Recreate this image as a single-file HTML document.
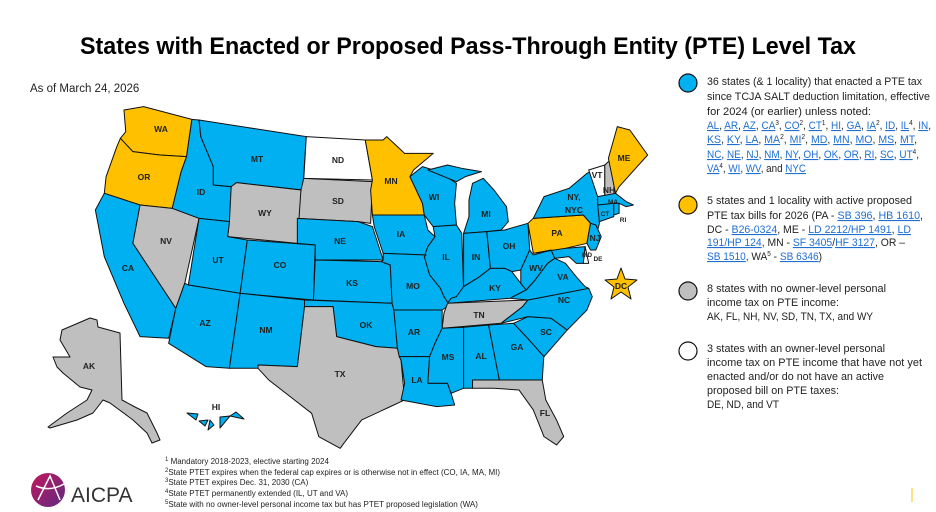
<!DOCTYPE html>
<html><head><meta charset="utf-8"><style>
html,body{margin:0;padding:0;background:#fff;}
svg{display:block;font-family:"Liberation Sans",sans-serif;}
.l{font-size:8.5px;font-weight:bold;fill:#222;text-anchor:middle;}
.lg{font-size:11px;fill:#222;}
.u{fill:#1f6fd1;text-decoration:underline;}
.fn{font-size:8px;fill:#222;}
</style></head><body>
<svg width="936" height="512" viewBox="0 0 936 512">
<text x="468" y="54" text-anchor="middle" font-size="24" font-weight="bold" fill="#000" textLength="776" lengthAdjust="spacingAndGlyphs">States with Enacted or Proposed Pass-Through Entity (PTE) Level Tax</text>
<text x="30" y="92" font-size="11.5" fill="#222">As of March 24, 2026</text>

<g transform="translate(90,90) scale(0.3575,0.3333)" stroke="#111" stroke-width="1" stroke-linejoin="round">
<g>
<polygon fill="#ffc000" vector-effect="non-scaling-stroke" points="95,60 150,50 285,88 270,200 195,195 120,185 85,145 100,125"/>
<polygon fill="#ffc000" vector-effect="non-scaling-stroke" points="85,145 120,185 195,195 270,200 255,245 230,355 140,345 40,310 45,260 75,170"/>
<polygon fill="#00b0f0" vector-effect="non-scaling-stroke" points="40,310 140,345 120,460 240,655 220,745 140,740 95,640 40,500 15,360"/>
<polygon fill="#bfbfbf" vector-effect="non-scaling-stroke" points="140,345 230,355 305,385 265,580 240,655 120,460"/>
<polygon fill="#00b0f0" vector-effect="non-scaling-stroke" points="285,88 305,90 310,140 345,230 345,285 395,290 390,395 305,385 230,355 255,245 270,200"/>
<polygon fill="#00b0f0" vector-effect="non-scaling-stroke" points="305,90 605,140 595,300 410,278 395,290 345,285 345,230 310,140"/>
<polygon fill="#ffffff" vector-effect="non-scaling-stroke" points="605,140 770,150 790,270 598,265"/>
<polygon fill="#bfbfbf" vector-effect="non-scaling-stroke" points="598,265 790,275 785,400 750,395 580,385 590,300"/>
<polygon fill="#bfbfbf" vector-effect="non-scaling-stroke" points="410,278 590,300 580,460 385,440 390,395 395,290"/>
<polygon fill="#00b0f0" vector-effect="non-scaling-stroke" points="580,385 750,395 790,410 820,510 630,510 630,465 580,460"/>
<polygon fill="#00b0f0" vector-effect="non-scaling-stroke" points="305,385 390,395 385,440 440,450 420,610 275,585"/>
<polygon fill="#00b0f0" vector-effect="non-scaling-stroke" points="440,450 630,465 625,630 420,610"/>
<polygon fill="#00b0f0" vector-effect="non-scaling-stroke" points="630,510 815,515 840,525 845,640 625,630"/>
<polygon fill="#00b0f0" vector-effect="non-scaling-stroke" points="275,585 420,610 390,835 325,830 220,760 240,655 265,580"/>
<polygon fill="#00b0f0" vector-effect="non-scaling-stroke" points="420,610 600,630 600,650 580,830 470,825 470,835 390,835"/>
<polygon fill="#00b0f0" vector-effect="non-scaling-stroke" points="600,630 845,640 850,660 860,775 800,770 745,755 690,740 680,650 600,650"/>
<polygon fill="#bfbfbf" vector-effect="non-scaling-stroke" points="600,650 680,650 690,740 745,755 800,770 860,775 870,810 880,930 840,950 760,990 710,1060 700,1075 640,1040 620,970 560,920 500,870 470,835 470,825 580,830"/>
<polygon fill="#ffc000" vector-effect="non-scaling-stroke" points="770,150 820,150 830,140 880,190 960,190 905,240 895,260 930,340 935,375 790,375 785,300 790,270"/>
<polygon fill="#00b0f0" vector-effect="non-scaling-stroke" points="790,375 935,375 945,420 965,440 945,470 940,495 820,490 795,410"/>
<polygon fill="#00b0f0" vector-effect="non-scaling-stroke" points="895,260 930,230 975,245 1025,280 1020,340 1025,405 960,410 935,375 930,340"/>
<polygon fill="#00b0f0" vector-effect="non-scaling-stroke" points="945,240 1000,225 1040,235 1095,245 1050,260 1025,275"/>
<polygon fill="#00b0f0" vector-effect="non-scaling-stroke" points="1070,280 1100,265 1130,300 1165,350 1170,395 1150,420 1110,425 1045,430 1060,380 1060,330"/>
<polygon fill="#00b0f0" vector-effect="non-scaling-stroke" points="960,410 1025,405 1040,430 1045,600 1025,620 1005,645 990,620 980,595 950,555 935,500 945,470 965,440"/>
<polygon fill="#00b0f0" vector-effect="non-scaling-stroke" points="1045,430 1110,425 1120,535 1090,560 1045,590"/>
<polygon fill="#00b0f0" vector-effect="non-scaling-stroke" points="1110,425 1160,420 1225,400 1230,480 1205,540 1180,545 1160,535 1120,535"/>
<polygon fill="#00b0f0" vector-effect="non-scaling-stroke" points="820,490 940,495 935,500 950,555 980,595 990,620 1005,645 985,660 850,660 845,640 840,525 815,515 820,510"/>
<polygon fill="#00b0f0" vector-effect="non-scaling-stroke" points="1045,590 1090,560 1120,535 1160,535 1180,545 1205,580 1220,600 1175,625 1000,640 1010,625 1025,620"/>
<polygon fill="#bfbfbf" vector-effect="non-scaling-stroke" points="1000,640 1225,630 1210,650 1150,700 985,715 990,670"/>
<polygon fill="#00b0f0" vector-effect="non-scaling-stroke" points="850,660 985,660 985,715 965,760 950,800 865,800 860,775"/>
<polygon fill="#00b0f0" vector-effect="non-scaling-stroke" points="865,800 950,800 945,880 1000,880 1010,910 1020,945 970,950 870,930 880,880 870,810"/>
<polygon fill="#00b0f0" vector-effect="non-scaling-stroke" points="985,715 1045,712 1045,895 1010,910 1000,880 945,880 950,800 965,760"/>
<polygon fill="#00b0f0" vector-effect="non-scaling-stroke" points="1045,712 1115,705 1145,870 1070,870 1070,895 1045,895"/>
<polygon fill="#00b0f0" vector-effect="non-scaling-stroke" points="1115,705 1185,700 1220,740 1270,790 1265,870 1145,870"/>
<polygon fill="#00b0f0" vector-effect="non-scaling-stroke" points="1185,700 1225,680 1290,685 1335,720 1270,800 1220,740"/>
<polygon fill="#bfbfbf" vector-effect="non-scaling-stroke" points="1070,870 1265,870 1275,930 1305,990 1325,1040 1305,1065 1270,1040 1240,960 1200,900 1130,895 1070,895"/>
<polygon fill="#00b0f0" vector-effect="non-scaling-stroke" points="1225,630 1395,595 1405,620 1390,660 1335,720 1290,685 1225,680 1150,700 1210,650"/>
<polygon fill="#00b0f0" vector-effect="non-scaling-stroke" points="1175,625 1220,600 1245,570 1280,520 1300,505 1330,520 1360,560 1385,590 1395,595 1225,630"/>
<polygon fill="#00b0f0" vector-effect="non-scaling-stroke" points="1205,540 1230,480 1240,495 1290,480 1300,505 1280,520 1245,570 1220,600 1205,580"/>
<polygon fill="#ffc000" vector-effect="non-scaling-stroke" points="1225,400 1240,385 1380,375 1400,400 1390,460 1330,475 1240,490"/>
<polygon fill="#00b0f0" vector-effect="non-scaling-stroke" points="1240,385 1270,320 1340,295 1390,250 1410,240 1420,310 1425,400 1415,440 1400,400 1380,375"/>
<polygon fill="#00b0f0" vector-effect="non-scaling-stroke" points="1390,460 1400,400 1415,405 1430,440 1415,480 1400,480"/>
<polygon fill="#00b0f0" vector-effect="non-scaling-stroke" points="1240,490 1330,475 1385,470 1380,520 1360,520 1340,500 1300,505 1290,480"/>
<polygon fill="#ffffff" vector-effect="non-scaling-stroke" points="1385,470 1395,520 1380,520"/>
<polygon fill="#ffffff" vector-effect="non-scaling-stroke" points="1395,240 1440,225 1440,320 1420,320"/>
<polygon fill="#bfbfbf" vector-effect="non-scaling-stroke" points="1440,225 1455,210 1470,310 1440,320"/>
<polygon fill="#ffc000" vector-effect="non-scaling-stroke" points="1450,205 1475,110 1510,120 1560,195 1480,290 1470,310"/>
<polygon fill="#00b0f0" vector-effect="non-scaling-stroke" points="1420,320 1470,310 1500,335 1520,345 1500,350 1480,340 1420,345"/>
<polygon fill="#00b0f0" vector-effect="non-scaling-stroke" points="1420,345 1465,340 1465,380 1425,395"/>
<polygon fill="#00b0f0" vector-effect="non-scaling-stroke" points="1465,340 1480,340 1480,370 1465,375"/>
</g></g>

<g stroke="#111" stroke-width="1" stroke-linejoin="round">
<polygon fill="#bfbfbf" points="62,330 90,318 97,320 98,327 120,333 122,400 135,407 147,413 157,433 160,440 152,443 147,433 133,420 110,403 103,400 93,413 77,420 50,428 48,427 67,413 87,400 92,390 80,387 63,373 57,367 53,357 70,357 60,340"/>
<polygon fill="#00b0f0" points="187,413 198,414 196,420"/>
<polygon fill="#00b0f0" points="199,421 208,420 205,426"/>
<polygon fill="#00b0f0" points="210,420 214,425 208,430"/>
<polygon fill="#00b0f0" points="220,417 230,416 220,428"/>
<polygon fill="#00b0f0" points="230,416 236,412 244,419"/>
<polygon fill="#ffc000" points="621,268 625,279 637,280 628,287 631,299 621,292 611,299 614,287 605,280 617,279"/>
</g>

<g class="l">
<text x="161" y="132">WA</text><text x="144" y="180">OR</text><text x="128" y="271">CA</text>
<text x="166" y="244">NV</text><text x="201" y="195">ID</text><text x="257" y="162">MT</text>
<text x="338" y="163">ND</text><text x="338" y="204">SD</text><text x="265" y="216">WY</text>
<text x="340" y="244">NE</text><text x="218" y="263">UT</text><text x="280" y="268">CO</text>
<text x="352" y="286">KS</text><text x="205" y="326">AZ</text><text x="266" y="333">NM</text>
<text x="366" y="328">OK</text><text x="340" y="377">TX</text><text x="391" y="184">MN</text>
<text x="401" y="237">IA</text><text x="413" y="289">MO</text><text x="414" y="335">AR</text>
<text x="417" y="383">LA</text><text x="434" y="200">WI</text><text x="446" y="260">IL</text>
<text x="486" y="217">MI</text><text x="476" y="260">IN</text><text x="509" y="249">OH</text>
<text x="495" y="291">KY</text><text x="479" y="318">TN</text><text x="448" y="360">MS</text>
<text x="481" y="359">AL</text><text x="517" y="350">GA</text><text x="546" y="335">SC</text>
<text x="545" y="416">FL</text><text x="564" y="303">NC</text><text x="563" y="280">VA</text>
<text x="536" y="271">WV</text><text x="557" y="236">PA</text><text x="574" y="200">NY,</text>
<text x="574" y="213">NYC</text><text x="597" y="178">VT</text><text x="609" y="193">NH</text>
<text x="624" y="161">ME</text><text x="613" y="204" font-size="6.5">MA</text>
<text x="605" y="216" font-size="6.5">CT</text><text x="623" y="222" font-size="6.5">RI</text>
<text x="595" y="241">NJ</text><text x="587" y="257" font-size="6.5">MD</text><text x="598" y="261" font-size="6.5">DE</text>
<text x="621" y="289">DC</text><text x="89" y="369">AK</text><text x="216" y="410">HI</text>
</g>

<g stroke="#111" stroke-width="1.2">
<circle cx="688" cy="83" r="9" fill="#00b0f0"/>
<circle cx="688" cy="205" r="9" fill="#ffc000"/>
<circle cx="688" cy="291" r="9" fill="#bfbfbf"/>
<circle cx="688" cy="351" r="9" fill="#fff"/>
</g>
<g class="lg">
<text x="707" y="85" textLength="215" lengthAdjust="spacingAndGlyphs">36 states (&amp; 1 locality) that enacted a PTE tax</text>
<text x="707" y="100" textLength="223" lengthAdjust="spacingAndGlyphs">since TCJA SALT deduction limitation, effective</text>
<text x="707" y="115" textLength="164" lengthAdjust="spacingAndGlyphs">for 2024 (or earlier) unless noted:</text>
<text x="707" y="129" textLength="224" lengthAdjust="spacingAndGlyphs"><tspan class="u">AL</tspan>, <tspan class="u">AR</tspan>, <tspan class="u">AZ</tspan>, <tspan class="u">CA</tspan><tspan font-size="7" dy="-4">3</tspan><tspan dy="4">, </tspan><tspan class="u">CO</tspan><tspan font-size="7" dy="-4">2</tspan><tspan dy="4">, </tspan><tspan class="u">CT</tspan><tspan font-size="7" dy="-4">1</tspan><tspan dy="4">, </tspan><tspan class="u">HI</tspan>, <tspan class="u">GA</tspan>, <tspan class="u">IA</tspan><tspan font-size="7" dy="-4">2</tspan><tspan dy="4">, </tspan><tspan class="u">ID</tspan>, <tspan class="u">IL</tspan><tspan font-size="7" dy="-4">4</tspan><tspan dy="4">, </tspan><tspan class="u">IN</tspan>,</text>
<text x="707" y="143" textLength="210" lengthAdjust="spacingAndGlyphs"><tspan class="u">KS</tspan>, <tspan class="u">KY</tspan>, <tspan class="u">LA</tspan>, <tspan class="u">MA</tspan><tspan font-size="7" dy="-4">2</tspan><tspan dy="4">, </tspan><tspan class="u">MI</tspan><tspan font-size="7" dy="-4">2</tspan><tspan dy="4">, </tspan><tspan class="u">MD</tspan>, <tspan class="u">MN</tspan>, <tspan class="u">MO</tspan>, <tspan class="u">MS</tspan>, <tspan class="u">MT</tspan>,</text>
<text x="707" y="158" textLength="212" lengthAdjust="spacingAndGlyphs"><tspan class="u">NC</tspan>, <tspan class="u">NE</tspan>, <tspan class="u">NJ</tspan>, <tspan class="u">NM</tspan>, <tspan class="u">NY</tspan>, <tspan class="u">OH</tspan>, <tspan class="u">OK</tspan>, <tspan class="u">OR</tspan>, <tspan class="u">RI</tspan>, <tspan class="u">SC</tspan>, <tspan class="u">UT</tspan><tspan font-size="7" dy="-4">4</tspan><tspan dy="4">,</tspan></text>
<text x="707" y="172" textLength="99" lengthAdjust="spacingAndGlyphs"><tspan class="u">VA</tspan><tspan font-size="7" dy="-4">4</tspan><tspan dy="4">, </tspan><tspan class="u">WI</tspan>, <tspan class="u">WV</tspan>, and <tspan class="u">NYC</tspan></text>

<text x="707" y="204" textLength="205" lengthAdjust="spacingAndGlyphs">5 states and 1 locality with active proposed</text>
<text x="707" y="219" textLength="216" lengthAdjust="spacingAndGlyphs">PTE tax bills for 2026 (PA - <tspan class="u">SB 396</tspan>, <tspan class="u">HB 1610</tspan>,</text>
<text x="707" y="233" textLength="204" lengthAdjust="spacingAndGlyphs">DC - <tspan class="u">B26-0324</tspan>, ME - <tspan class="u">LD 2212/HP 1491</tspan>, <tspan class="u">LD</tspan></text>
<text x="707" y="246" textLength="198" lengthAdjust="spacingAndGlyphs"><tspan class="u">191/HP 124</tspan>, MN - <tspan class="u">SF 3405</tspan>/<tspan class="u">HF 3127</tspan>, OR –</text>
<text x="707" y="260" textLength="115" lengthAdjust="spacingAndGlyphs"><tspan class="u">SB 1510</tspan>, WA<tspan font-size="7" dy="-4">5</tspan><tspan dy="4"> - </tspan><tspan class="u">SB 6346</tspan>)</text>

<text x="707" y="292" textLength="179" lengthAdjust="spacingAndGlyphs">8 states with no owner-level personal</text>
<text x="707" y="306" textLength="132" lengthAdjust="spacingAndGlyphs">income tax on PTE income:</text>
<text x="707" y="320" textLength="166" lengthAdjust="spacingAndGlyphs">AK, FL, NH, NV, SD, TN, TX, and WY</text>

<text x="707" y="352" textLength="178" lengthAdjust="spacingAndGlyphs">3 states with an owner-level personal</text>
<text x="707" y="366" textLength="215" lengthAdjust="spacingAndGlyphs">income tax on PTE income that have not yet</text>
<text x="707" y="380" textLength="177" lengthAdjust="spacingAndGlyphs">enacted and/or do not have an active</text>
<text x="707" y="394" textLength="132" lengthAdjust="spacingAndGlyphs">proposed bill on PTE taxes:</text>
<text x="707" y="408" textLength="72" lengthAdjust="spacingAndGlyphs">DE, ND, and VT</text>
</g>

<g class="fn">
<text x="165" y="464"><tspan font-size="6" dy="-3">1</tspan><tspan dy="3"> Mandatory 2018-2023, elective starting 2024</tspan></text>
<text x="165" y="475" textLength="335" lengthAdjust="spacingAndGlyphs"><tspan font-size="6" dy="-3">2</tspan><tspan dy="3">State PTET expires when the federal cap expires or is otherwise not in effect (CO, IA, MA, MI)</tspan></text>
<text x="165" y="485"><tspan font-size="6" dy="-3">3</tspan><tspan dy="3">State PTET expires Dec. 31, 2030 (CA)</tspan></text>
<text x="165" y="496"><tspan font-size="6" dy="-3">4</tspan><tspan dy="3">State PTET permanently extended (IL, UT and VA)</tspan></text>
<text x="165" y="507" textLength="313" lengthAdjust="spacingAndGlyphs"><tspan font-size="6" dy="-3">5</tspan><tspan dy="3">State with no owner-level personal income tax but has PTET proposed legislation (WA)</tspan></text>
</g>

<defs><linearGradient id="g" x1="0" y1="0" x2="1" y2="1"><stop offset="0" stop-color="#c2185b"/><stop offset="1" stop-color="#5e2a84"/></linearGradient></defs>
<circle cx="48" cy="490" r="17" fill="url(#g)"/>
<path d="M38,500 L50,476 L60,500 M36,486 Q50,492 64,484" stroke="#fff" stroke-width="1.5" fill="none"/>
<text x="71" y="502" font-size="21" fill="#333">AICPA</text>
<line x1="912" y1="488" x2="912" y2="502" stroke="#ffc000" stroke-width="1"/>
</svg>
</body></html>
